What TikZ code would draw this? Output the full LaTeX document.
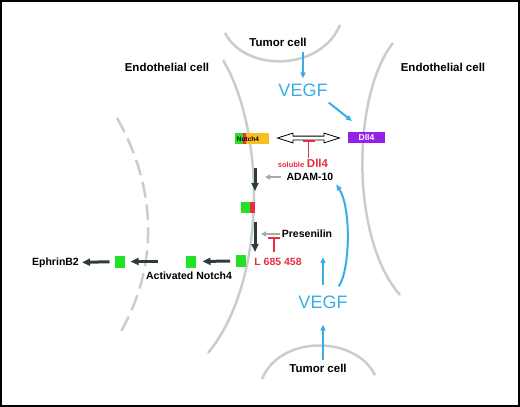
\documentclass[tikz,border=0pt]{standalone}
\usepackage{fontspec}
\setmainfont{Liberation Sans}
\usetikzlibrary{arrows.meta,shapes.arrows,calc}

\definecolor{cellgray}{RGB}{200,205,205}
\definecolor{vegfblue}{RGB}{59,172,232}
\definecolor{inhred}{RGB}{230,45,65}
\definecolor{dllpurple}{RGB}{150,30,230}
\definecolor{notchgreen}{RGB}{35,225,35}
\definecolor{notchgold}{RGB}{250,190,30}
\definecolor{darkslate}{RGB}{45,58,64}
\definecolor{arrowgray}{RGB}{165,170,170}

\begin{document}
\begin{tikzpicture}[x=1pt, y=-1pt,
  membrane/.style={draw=cellgray, line width=2.5pt},
  lbl/.style={font=\bfseries\fontsize{11.5}{13}\selectfont, inner sep=1pt},
  small/.style={font=\bfseries\fontsize{10.5}{12}\selectfont, inner sep=1pt},
  vegf/.style={font=\fontsize{18}{20}\selectfont, text=vegfblue, inner sep=1pt},
  box/.style={minimum height=11pt, inner sep=0pt, outer sep=0pt},
  bluearrow/.style={draw=vegfblue, line width=2pt, -{Triangle[length=6pt,width=5pt]}},
  darkarrow/.style={draw=darkslate, line width=3pt, -{Triangle[length=8pt,width=7pt]}},
  grayarrow/.style={draw=arrowgray, line width=2.5pt, -{Triangle[length=5pt,width=5pt]}},
  inhib/.style={draw=inhred, line width=1.5pt, -{Bar[width=12pt]}}]

\useasboundingbox (0,0) rectangle (520,407);

% frame
\draw[line width=2pt] (1,1) rectangle (519,406);

% membranes
\draw[membrane] (223,60) .. controls (265,130) and (268,280) .. (208,353);
\draw[membrane] (393,43) .. controls (352,95) and (350,238) .. (400,295);
\draw[membrane, dash pattern=on 16pt off 7pt] (117,118) .. controls (158,190) and (158,268) .. (120,333);

% tumor cells
\draw[membrane] (225,33) .. controls (245,72) and (320,72) .. (340,25);
\draw[membrane] (262,379) .. controls (280,335) and (355,335) .. (375,375);

% lables
\node[lbl] (tumortop) at (278,42) {Tumor cell};
\node[lbl] (tumorbot) at (318,368) {Tumor cell};
\node[lbl] (endoleft) at (167,67) {Endothelial cell};
\node[lbl] (endoright) at (443,67) {Endothelial cell};
\node[vegf] (vegftop) at (303,90) {VEGF};
\node[vegf] (vegfbot) at (323,302) {VEGF};
\node[small] (adam) at (310,177) {ADAM-10};
\node[small] (pres) at (307,234) {Presenilin};
\node[small, text=inhred] (l685) at (278,262) {L 685 458};
\node[small] (ephrin) at (55.5,263) {EphrinB2};
\node[small] (actlbl) at (189,276) {Activated Notch4};
\node[inner sep=1pt, text=inhred] (soluble) at (303,163)
  {{\bfseries\fontsize{7.5}{9}\selectfont soluble} {\bfseries\fontsize{11.5}{13}\selectfont Dll4}};

% receptor and ligand
\node[box, minimum width=34pt, fill=notchgold, path picture={
  \fill[notchgreen] (path picture bounding box.north west) rectangle ([xshift=8pt]path picture bounding box.south west);
  \fill[inhred] ([xshift=8pt]path picture bounding box.north west) rectangle ([xshift=11pt]path picture bounding box.south west);}]
  (notch) at (252,138.5) {};
\node[font=\bfseries\fontsize{6.5}{8}\selectfont, inner sep=0pt] (notchtxt) at (248,139) {Notch4};
\node[box, minimum width=37pt, fill=dllpurple, text=white, font=\bfseries\fontsize{8.5}{10}\selectfont]
  (dll) at (366.5,137.5) {Dll4};
\node[draw, fill=white, line width=0.8pt, double arrow, double arrow tip angle=35,
  double arrow head extend=3pt, minimum height=62pt, inner sep=1.5pt]
  (bind) at ($(notch.east)!0.5!(dll.west)$) {};

% cleaved and activated notch4
\node[box, minimum width=14pt, fill=inhred, path picture={
  \fill[notchgreen] (path picture bounding box.north west) rectangle ([xshift=9pt]path picture bounding box.south west);}]
  (cleaved) at (248,207.5) {};
\node[box, minimum width=10pt, minimum height=12pt, fill=notchgreen] (act1) at (241,261) {};
\node[box, minimum width=10pt, minimum height=12pt, fill=notchgreen] (act2) at (190.5,261.5) {};
\node[box, minimum width=10pt, minimum height=12pt, fill=notchgreen] (act3) at (119.5,261.5) {};

% signalling arrows
\draw[darkarrow, shorten <=24pt, shorten >=11pt] (notch.south -| cleaved.east) -- (cleaved.north east);
\draw[darkarrow, shorten <=9pt, shorten >=3pt] (cleaved.south east) -- (cleaved.east |- act1.north);
\draw[darkarrow, shorten <=6pt, shorten >=7pt] (act1) -- (act2);
\draw[darkarrow, shorten <=28pt, shorten >=6pt] (act2) -- (act3);
\draw[darkarrow, shorten <=5pt, shorten >=2pt] (act3) -- (ephrin);

% proteases
\draw[grayarrow, shorten <=4pt, shorten >=10pt] (adam.west) -- (adam.west -| cleaved.east);
\draw[grayarrow, shorten <=1pt, shorten >=6pt] (pres.west) -- (pres.west -| cleaved.east);

% inhibitors
\draw[inhib] (soluble.north -| bind.south) -- (bind.south);
\draw[inhib, shorten <=5pt, shorten >=3pt] ([xshift=-4pt]l685.north) -- ([xshift=-4pt]l685.north |- pres);

% vegf
\coordinate (dlltip) at ([xshift=4pt, yshift=11pt]dll.north west);
\draw[bluearrow, shorten <=5pt, shorten >=4pt] (vegftop.north |- tumortop.south) -- (vegftop.north);
\draw[bluearrow] ([yshift=-5pt]vegftop.south east) -- (dlltip);
\draw[bluearrow, shorten <=3pt, shorten >=15pt] (tumorbot.north -| vegfbot) -- (vegfbot.south);
\draw[bluearrow, shorten <=9pt] (vegfbot.north) -- (vegfbot.north |- l685.north);
\draw[bluearrow, shorten <=10pt, shorten >=3pt] ([xshift=10pt]vegfbot.north) .. controls +(17,-24) and +(17,26) .. (adam.south east);

\end{tikzpicture}
\end{document}
